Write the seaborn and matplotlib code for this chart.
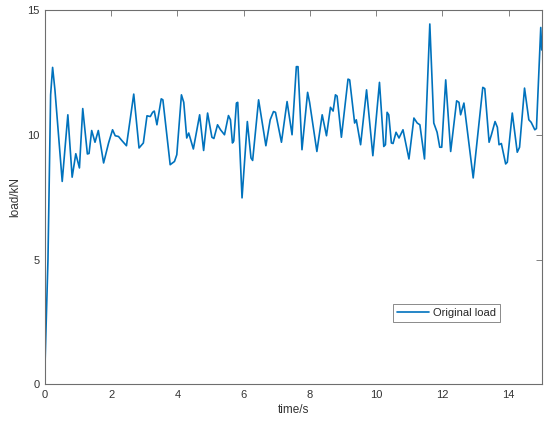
import numpy as np
import pandas as pd
import matplotlib
matplotlib.use("Agg")
import matplotlib.pyplot as plt
import seaborn as sns

# values (turning points of the trace)
time_s = [0.00, 0.09, 0.17, 0.23, 0.30, 0.52, 0.69, 0.82, 0.93, 1.04, 1.14, 1.28, 1.33,
          1.41, 1.51, 1.61, 1.77, 1.92, 2.04, 2.12, 2.22, 2.32, 2.46, 2.68, 2.84, 2.97,
          3.08, 3.18, 3.25, 3.30, 3.38, 3.51, 3.56, 3.78, 3.91, 3.98, 4.12, 4.19, 4.28,
          4.34, 4.48, 4.67, 4.79, 4.91, 5.04, 5.10, 5.21, 5.30, 5.42, 5.54, 5.60, 5.66,
          5.70, 5.78, 5.82, 5.95, 6.11, 6.22, 6.27, 6.45, 6.67, 6.80, 6.90, 6.96, 7.14,
          7.31, 7.37, 7.46, 7.59, 7.64, 7.76, 7.93, 7.99, 8.21, 8.37, 8.50, 8.62, 8.70,
          8.77, 8.82, 8.95, 9.15, 9.20, 9.35, 9.40, 9.53, 9.71, 9.90, 10.10, 10.23,
          10.28, 10.33, 10.38, 10.46, 10.51, 10.60, 10.69, 10.81, 10.99, 11.14, 11.24,
          11.32, 11.46, 11.62, 11.74, 11.84, 11.92, 11.98, 12.10, 12.25, 12.43, 12.50,
          12.55, 12.65, 12.93, 13.22, 13.28, 13.41, 13.48, 13.59, 13.66, 13.71, 13.78,
          13.91, 13.96, 14.11, 14.26, 14.33, 14.48, 14.61, 14.68, 14.79, 14.84, 14.97,
          15.00]
load_kn = [0.77, 5.0, 11.6, 12.7, 11.8, 8.13, 10.8, 8.3, 9.24, 8.67, 11.05, 9.23, 9.25,
           10.17, 9.7, 10.17, 8.87, 9.67, 10.2, 9.96, 9.93, 9.77, 9.56, 11.63, 9.47, 9.67,
           10.76, 10.73, 10.9, 10.95, 10.4, 11.44, 11.4, 8.8, 8.93, 9.2, 11.6, 11.3, 9.87,
           10.07, 9.43, 10.8, 9.37, 10.87, 9.9, 9.85, 10.4, 10.2, 10.0, 10.77, 10.6, 9.67,
           9.75, 11.27, 11.3, 7.47, 10.53, 9.07, 8.97, 11.4, 9.56, 10.6, 10.93, 10.9, 9.7,
           11.33, 10.8, 10.0, 12.73, 12.73, 9.4, 11.7, 11.3, 9.33, 10.8, 9.96, 11.1, 10.95,
           11.6, 11.55, 9.9, 12.23, 12.2, 10.47, 10.6, 9.6, 11.8, 9.16, 12.1, 9.53, 9.6,
           10.9, 10.8, 9.67, 9.65, 10.1, 9.87, 10.2, 9.03, 10.67, 10.47, 10.4, 9.03, 14.44,
           10.47, 10.1, 9.5, 9.5, 12.2, 9.33, 11.36, 11.3, 10.8, 11.27, 8.27, 11.9, 11.85,
           9.7, 10.0, 10.53, 10.3, 9.6, 9.65, 8.83, 8.9, 10.87, 9.3, 9.5, 11.87, 10.6,
           10.5, 10.2, 10.25, 14.3, 13.4]

df = pd.DataFrame({"time/s": time_s, "load/kN": load_kn})

sns.set_style("white")
plt.rcParams["font.family"] = ["Liberation Sans", "DejaVu Sans"]
plt.rcParams["xtick.direction"] = "in"
plt.rcParams["ytick.direction"] = "in"

fig = plt.figure(figsize=(5.5, 4.26), dpi=100)
ax = fig.add_axes([0.0818, 0.098, 0.9032, 0.8785])

sns.lineplot(data=df, x="time/s", y="load/kN", ax=ax, color="#0072BD",
             linewidth=1.2, label="Original load")

ax.set_xlim(0, 15)
ax.set_ylim(0, 15)
ax.set_xticks(np.arange(0, 16, 2))
ax.set_yticks([0, 5, 10, 15])
ax.set_xlabel("time/s", fontsize=8.5, color="#333333", labelpad=3)
ax.set_ylabel("load/kN", fontsize=8.5, color="#333333", labelpad=4)
ax.tick_params(axis="both", labelsize=8, labelcolor="#333333", color="#6e6e6e",
               length=4, width=0.6, top=True, right=True, pad=4)
for s in ax.spines.values():
    s.set_color("#6e6e6e")
    s.set_linewidth(0.8)
ax.grid(False)

leg = ax.legend(loc="center left", bbox_to_anchor=(0.7, 0.191), fontsize=8,
                frameon=True, fancybox=False, handlelength=2.9, borderpad=0.35,
                handletextpad=0.4, borderaxespad=0)
leg.get_frame().set_edgecolor("#555555")
leg.get_frame().set_linewidth(0.6)

fig.savefig("out.png", dpi=100)
